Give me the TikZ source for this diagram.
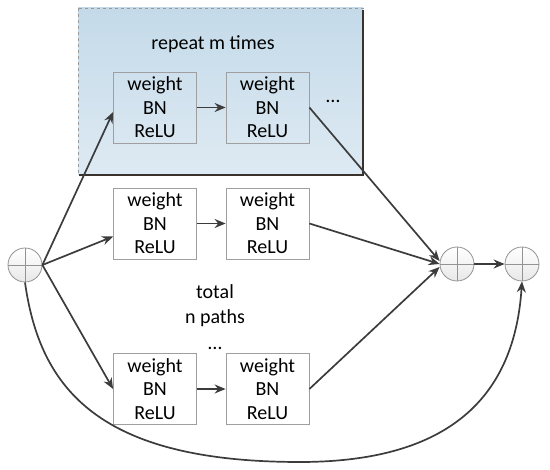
\documentclass[tikz,border=0pt]{standalone}
\usepackage{fontspec}
\setmainfont{Carlito}
\usetikzlibrary{arrows.meta}
\definecolor{repeattop}{RGB}{196,218,233}
\definecolor{repeatbot}{RGB}{222,234,243}
\definecolor{edgedark}{RGB}{58,50,44}
\definecolor{linkgray}{RGB}{60,60,60}

\begin{document}
\begin{tikzpicture}[x=1pt,y=-1pt,
	layer/.style={draw=gray!75,line width=0.8pt,minimum width=83pt,minimum height=71pt,inner sep=0pt,align=center,font=\fontsize{20}{23.5}\selectfont},
	sumnode/.style={circle,draw=gray!85,line width=0.8pt,minimum size=34pt,inner sep=0pt,top color=white,bottom color=gray!18,
		path picture={\draw[gray!85] (path picture bounding box.north) -- (path picture bounding box.south)
			(path picture bounding box.west) -- (path picture bounding box.east);}},
	label/.style={align=center,font=\fontsize{20}{25.5}\selectfont},
	link/.style={draw=linkgray,line width=1.7pt,-{Stealth[length=11pt,width=9pt]}}]
		\useasboundingbox (0,0) rectangle (550,470);
		% repeated block
		\def\repeatarea{(78,8) rectangle (363,175)}
		\fill[top color=repeattop,bottom color=repeatbot] \repeatarea;
		\draw[gray!80,dashed] \repeatarea;
		\draw[edgedark,line width=1.8pt] (363,10) -- (363,175) -- (79,175);
		\node[label] (rep) at (213,44) {repeat m times};
		% layers
		\node[layer] (t1) at (155,107.5) {weight\\BN\\ReLU};
		\node[layer] (t2) at (267.5,107.5) {weight\\BN\\ReLU};
		\node[label] (tdots) at (333,101) {…};
		\node[layer,fill=white] (m1) at (155,223.5) {weight\\BN\\ReLU};
		\node[layer,fill=white] (m2) at (267.5,223.5) {weight\\BN\\ReLU};
		\node[label] (paths) at (215,317) {total\\n paths\\…};
		\node[layer,fill=white] (b1) at (155,389) {weight\\BN\\ReLU};
		\node[layer,fill=white] (b2) at (267.5,389) {weight\\BN\\ReLU};
		% sums
		\node[sumnode] (in) at (25,265) {};
		\node[sumnode] (s1) at (457,264) {};
		\node[sumnode] (s2) at (522,264) {};
		\coordinate (low) at (300,462);
		% connections
		\draw[link] (in.east) -- ([yshift=-4.5pt]t1.west);
		\draw[link] (in.east) -- ([yshift=-13pt]m1.west);
		\draw[link] (in.east) -- (b1.west);
		\draw[link] (t1) -- (t2);
		\draw[link] (m1) -- (m2);
		\draw[link] (b1) -- (b2);
		\draw[link] (t2.east) -- ([yshift=3pt]s1.west);
		\draw[link] (m2.east) -- (s1.west);
		\draw[link] (b2.east) -- ([yshift=-3pt]s1.west);
		\draw[link] (s1) -- (s2);
		\draw[link] (in.south) .. controls (40,390) and (100,462) .. (low)
			.. controls (440,462) and (514,405) .. (s2.south);
	\end{tikzpicture}
\end{document}
